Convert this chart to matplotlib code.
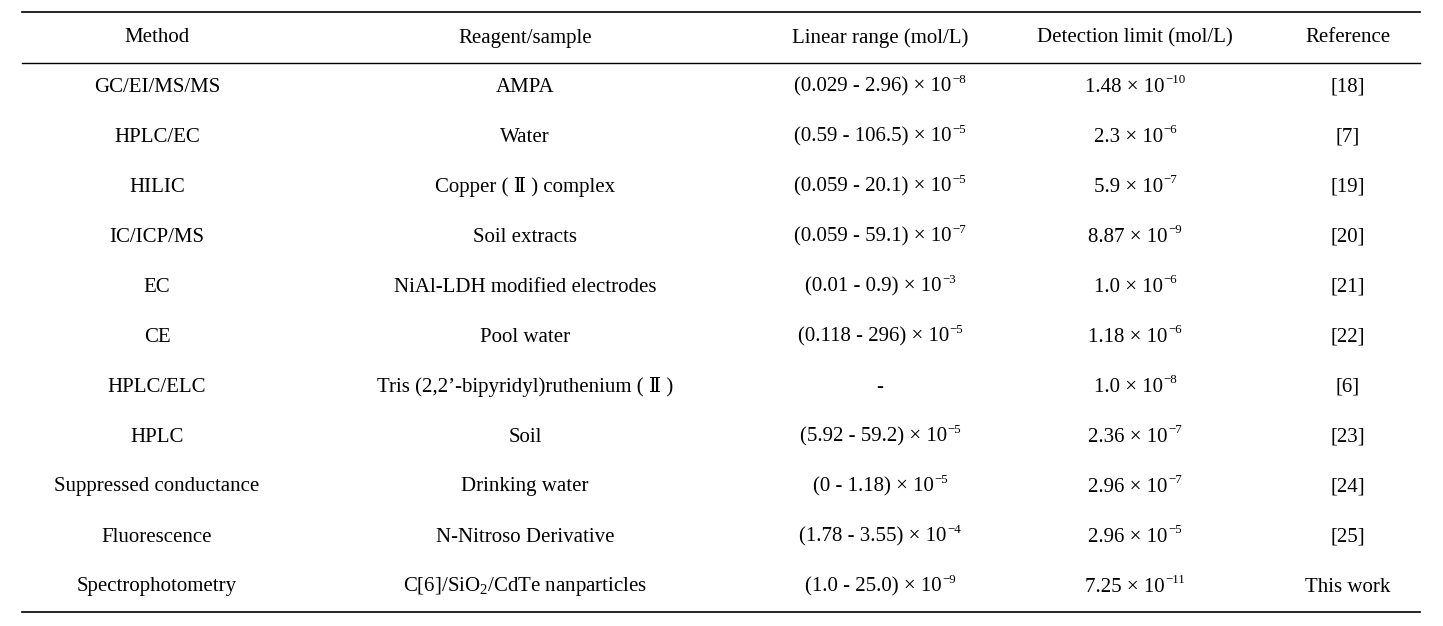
import matplotlib
matplotlib.use("Agg")
import matplotlib.pyplot as plt

plt.rcParams['font.family'] = ['Liberation Serif', 'DejaVu Serif', 'Noto Sans CJK SC']
plt.rcParams['mathtext.fontset'] = 'custom'
plt.rcParams['mathtext.rm'] = 'Liberation Serif'
plt.rcParams['mathtext.it'] = 'Liberation Serif'

headers = ["Method", "Reagent/sample", "Linear range (mol/L)", "Detection limit (mol/L)", "Reference"]
methods = ["GC/EI/MS/MS", "HPLC/EC", "HILIC", "IC/ICP/MS", "EC", "CE", "HPLC/ELC", "HPLC",
           "Suppressed conductance", "Fluorescence", "Spectrophotometry"]
reagents = ["AMPA", "Water", "Copper ( Ⅱ ) complex", "Soil extracts", "NiAl-LDH modified electrodes",
            "Pool water", "Tris (2,2’-bipyridyl)ruthenium ( Ⅱ )", "Soil", "Drinking water",
            "N-Nitroso Derivative", "C[6]/SiO$_2$/CdTe nanparticles"]
linear = ["(0.029 - 2.96) × 10^−8", "(0.59 - 106.5) × 10^−5", "(0.059 - 20.1) × 10^−5",
          "(0.059 - 59.1) × 10^−7", "(0.01 - 0.9) × 10^−3", "(0.118 - 296) × 10^−5",
          "-", "(5.92 - 59.2) × 10^−5", "(0 - 1.18) × 10^−5", "(1.78 - 3.55) × 10^−4",
          "(1.0 - 25.0) × 10^−9"]
detection = ["1.48 × 10^−10", "2.3 × 10^−6", "5.9 × 10^−7", "8.87 × 10^−9",
             "1.0 × 10^−6", "1.18 × 10^−6", "1.0 × 10^−8", "2.36 × 10^−7",
             "2.96 × 10^−7", "2.96 × 10^−5", "7.25 × 10^−11"]
refs = ["[18]", "[7]", "[19]", "[20]", "[21]", "[22]", "[6]", "[23]", "[24]", "[25]", "This work"]

W, H = 1443, 626
fig = plt.figure(figsize=(W/100, H/100), dpi=100)
ax = fig.add_axes([0, 0, 1, 1])
ax.set_xlim(0, W); ax.set_ylim(H, 0); ax.axis('off')
renderer = fig.canvas.get_renderer()

col_x = [157, 525, 880, 1135, 1348]
fs = 15

def put(x, y, s):
    if "^" not in s:
        ax.text(x, y, s, ha='center', va='center', fontsize=fs)
        return
    base, exp = s.split("^")
    t1 = ax.text(0, y, base, ha='left', va='center', fontsize=fs)
    t2 = ax.text(0, y - 7, exp, ha='left', va='center', fontsize=fs * 0.62)
    w1 = t1.get_window_extent(renderer).width
    w2 = t2.get_window_extent(renderer).width
    x0 = x - (w1 + w2) / 2
    t1.set_x(x0)
    t2.set_x(x0 + w1 + 0.5)

for x, h in zip(col_x, headers):
    put(x, 38, h)
cols = [methods, reagents, linear, detection, refs]
for i in range(len(methods)):
    y = 87 + 50 * i
    for x, c in zip(col_x, cols):
        put(x, y, c[i])

for y, lw in [(12, 1.2), (63, 1.0), (612, 1.2)]:
    ax.plot([22, 1420], [y, y], color='black', lw=lw)

fig.savefig("out.png", dpi=100)
